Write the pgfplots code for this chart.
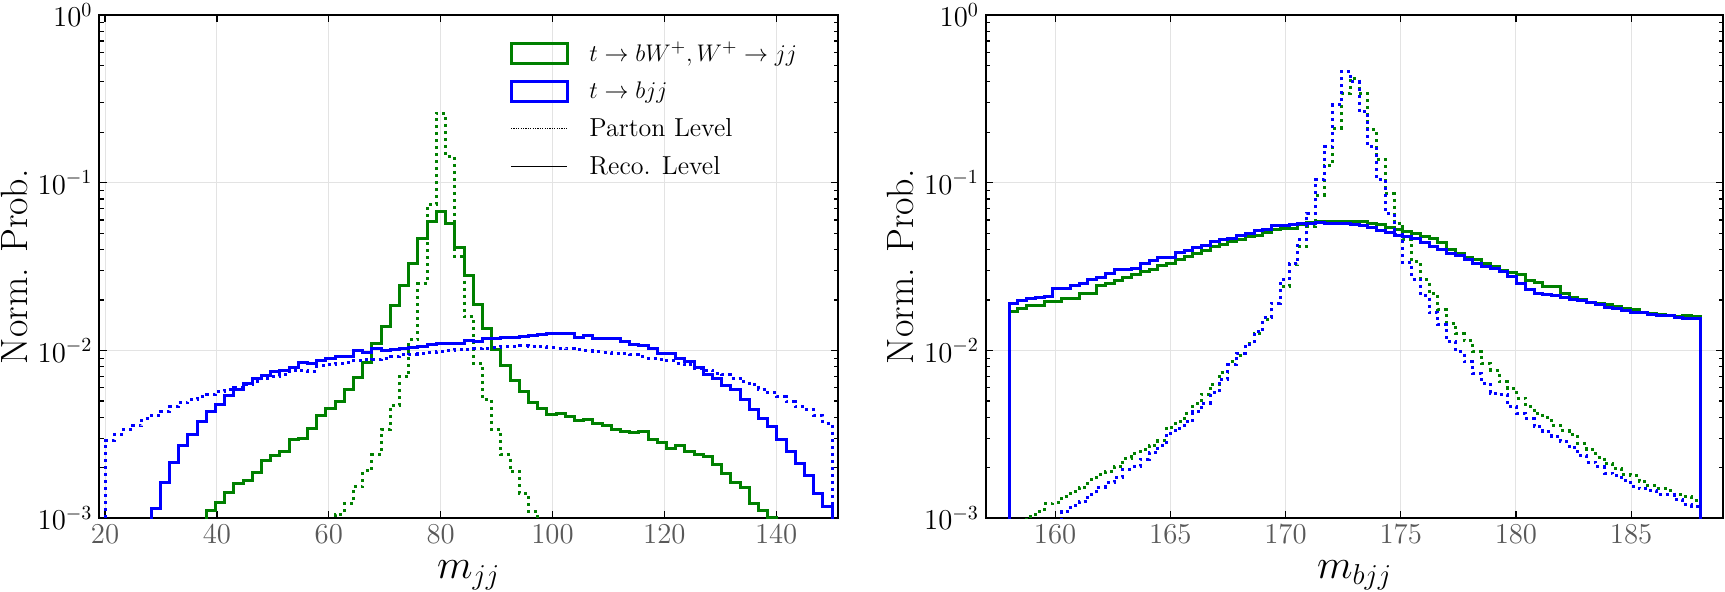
\documentclass[border=0pt]{standalone}
\usepackage{fontspec}
\usepackage{pgfplots}
\usepackage{pgfplotstable}
\pgfplotsset{compat=1.18}
\definecolor{mgreen}{rgb}{0,0.5,0}
\definecolor{mblue}{rgb}{0,0,1}

% left panel: bin index i (79 bins, 20..150), green reco, blue reco, green parton, blue parton
\pgfplotstableread{
i g b gp bp
0 1e-5 1e-5 1e-5 1e-5
0 1e-4 2e-4 1e-4 2.904e-3
1 1.2e-4 3e-4 1e-4 3.141e-3
2 1.6e-4 4.5e-4 1e-4 3.365e-3
3 2e-4 6e-4 1e-4 3.556e-3
4 2.5e-4 8e-4 1e-4 3.945e-3
5 3.2e-4 1.148e-3 1e-4 4.074e-3
6 4e-4 1.633e-3 1e-4 4.325e-3
7 5e-4 2.148e-3 1e-4 4.634e-3
8 6.3e-4 2.735e-3 1e-4 4.898e-3
9 7.9e-4 3.170e-3 1e-4 5.082e-3
10 9.3e-4 3.802e-3 1e-4 5.309e-3
11 1.109e-3 4.325e-3 1e-4 5.433e-3
12 1.247e-3 4.786e-3 1e-4 5.689e-3
13 1.419e-3 5.383e-3 1e-4 5.875e-3
14 1.618e-3 5.875e-3 1e-4 6.012e-3
15 1.675e-3 6.383e-3 1e-4 6.237e-3
16 1.888e-3 6.776e-3 1e-4 6.531e-3
17 2.203e-3 7.063e-3 1e-4 6.839e-3
18 2.382e-3 7.551e-3 1e-4 6.998e-3
19 2.506e-3 7.656e-3 1e-4 7.161e-3
20 2.958e-3 7.943e-3 1.3e-4 7.586e-3
21 3.006e-3 8.511e-3 2e-4 7.656e-3
22 3.420e-3 8.395e-3 3e-4 7.551e-3
23 4.093e-3 8.710e-3 4.5e-4 8.091e-3
24 4.539e-3 8.995e-3 7e-4 8.279e-3
25 4.955e-3 9.204e-3 1.059e-3 8.318e-3
26 5.875e-3 9.204e-3 1.219e-3 8.472e-3
27 6.934e-3 9.954e-3 1.545e-3 8.670e-3
28 8.433e-3 9.772e-3 1.923e-3 8.790e-3
29 1.109e-2 1.023e-2 2.388e-3 8.872e-3
30 1.390e-2 1.000e-2 3.365e-3 8.995e-3
31 1.858e-2 1.019e-2 4.677e-3 9.204e-3
32 2.432e-2 1.033e-2 6.998e-3 9.419e-3
33 3.311e-2 1.040e-2 1.156e-2 9.506e-3
34 4.634e-2 1.064e-2 2.518e-2 9.550e-3
35 5.902e-2 1.089e-2 7.379e-2 9.727e-3
36 6.714e-2 1.104e-2 0.2600 9.863e-3
37 5.702e-2 1.102e-2 0.1429 1.000e-2
38 4.111e-2 1.109e-2 3.631e-2 1.009e-2
39 2.786e-2 1.146e-2 1.585e-2 1.019e-2
40 1.888e-2 1.135e-2 8.395e-3 1.028e-2
41 1.346e-2 1.183e-2 5.082e-3 1.035e-2
42 1.009e-2 1.175e-2 3.365e-3 1.038e-2
43 8.091e-3 1.194e-2 2.388e-3 1.052e-2
44 6.592e-3 1.202e-2 1.901e-3 1.057e-2
45 5.689e-3 1.213e-2 1.413e-3 1.067e-2
46 4.898e-3 1.225e-2 1.096e-3 1.059e-2
47 4.529e-3 1.239e-2 8.5e-4 1.052e-2
48 4.130e-3 1.256e-2 6e-4 1.042e-2
49 4.227e-3 1.256e-2 4e-4 1.033e-2
50 4.036e-3 1.256e-2 2e-4 1.023e-2
51 3.855e-3 1.202e-2 1e-4 1.014e-2
52 3.890e-3 1.222e-2 1e-4 1.000e-2
53 3.681e-3 1.183e-2 1e-4 9.863e-3
54 3.573e-3 1.183e-2 1e-4 9.772e-3
55 3.365e-3 1.183e-2 1e-4 9.638e-3
56 3.289e-3 1.130e-2 1e-4 9.550e-3
57 3.243e-3 1.094e-2 1e-4 9.419e-3
58 3.289e-3 1.079e-2 1e-4 9.204e-3
59 2.958e-3 1.023e-2 1e-4 8.995e-3
60 2.838e-3 9.550e-3 1e-4 8.872e-3
61 2.594e-3 9.550e-3 1e-4 8.670e-3
62 2.698e-3 8.995e-3 1e-4 8.395e-3
63 2.500e-3 8.590e-3 1e-4 8.204e-3
64 2.388e-3 7.943e-3 1e-4 7.834e-3
65 2.333e-3 7.244e-3 1e-4 7.656e-3
66 2.080e-3 6.839e-3 1e-4 7.328e-3
67 1.858e-3 6.152e-3 1e-4 7.161e-3
68 1.641e-3 5.821e-3 1e-4 6.839e-3
69 1.524e-3 5.129e-3 1e-4 6.531e-3
70 1.230e-3 4.467e-3 1e-4 6.237e-3
71 1.107e-3 3.945e-3 1e-4 5.875e-3
72 1.005e-3 3.524e-3 1e-4 5.610e-3
73 8e-4 2.931e-3 1e-4 5.309e-3
74 6.3e-4 2.500e-3 1e-4 4.966e-3
75 5e-4 2.128e-3 1e-4 4.634e-3
76 4e-4 1.791e-3 1e-4 4.426e-3
77 2.8e-4 1.413e-3 1e-4 4.074e-3
78 2e-4 1.175e-3 1e-4 3.681e-3
79 2e-4 1.175e-3 1e-4 3.681e-3
79 1e-5 1e-5 1e-5 1e-5
}\leftdata

% right panel: bin index i (79 bins, 158..188)
\pgfplotstableread{
i g b gp bp
0 1e-5 1e-5 1e-5 1e-5
0 1.710e-2 1.897e-2 8.9e-4 7.9e-4
1 1.782e-2 1.977e-2 9.3e-4 8.1e-4
2 1.866e-2 2.051e-2 1.023e-3 8.5e-4
3 1.866e-2 2.080e-2 1.096e-3 8.9e-4
4 1.954e-2 2.113e-2 1.219e-3 9.3e-4
5 1.954e-2 2.350e-2 1.242e-3 9.55e-4
6 2.051e-2 2.350e-2 1.349e-3 1.096e-3
7 2.051e-2 2.427e-2 1.442e-3 1.186e-3
8 2.193e-2 2.518e-2 1.531e-3 1.259e-3
9 2.193e-2 2.636e-2 1.694e-3 1.396e-3
10 2.432e-2 2.735e-2 1.816e-3 1.531e-3
11 2.518e-2 2.884e-2 1.897e-3 1.633e-3
12 2.612e-2 3.048e-2 2.032e-3 1.758e-3
13 2.735e-2 3.048e-2 2.280e-3 1.968e-3
14 2.825e-2 3.090e-2 2.443e-3 2.032e-3
15 2.958e-2 3.281e-2 2.559e-3 2.249e-3
16 3.048e-2 3.436e-2 2.735e-3 2.466e-3
17 3.199e-2 3.597e-2 2.904e-3 2.698e-3
18 3.281e-2 3.597e-2 3.491e-3 3.214e-3
19 3.467e-2 3.837e-2 3.767e-3 3.443e-3
20 3.639e-2 3.945e-2 4.188e-3 3.767e-3
21 3.802e-2 4.130e-2 4.808e-3 4.325e-3
22 3.945e-2 4.256e-2 5.495e-3 4.853e-3
23 4.198e-2 4.457e-2 6.310e-3 5.623e-3
24 4.305e-2 4.603e-2 7.413e-3 6.761e-3
25 4.457e-2 4.667e-2 8.590e-3 8.204e-3
26 4.613e-2 4.819e-2 9.290e-3 9.638e-3
27 4.775e-2 5.000e-2 1.104e-2 1.094e-2
28 4.875e-2 5.164e-2 1.268e-2 1.297e-2
29 5.047e-2 5.284e-2 1.521e-2 1.578e-2
30 5.284e-2 5.534e-2 1.914e-2 1.914e-2
31 5.358e-2 5.534e-2 2.404e-2 2.636e-2
32 5.358e-2 5.610e-2 3.236e-2 3.311e-2
33 5.675e-2 5.741e-2 4.159e-2 4.560e-2
34 5.781e-2 5.754e-2 5.470e-2 6.577e-2
35 5.875e-2 5.781e-2 8.453e-2 0.1040
36 5.902e-2 5.754e-2 0.1276 0.1641
37 5.848e-2 5.754e-2 0.2113 0.2911
38 5.848e-2 5.702e-2 0.3412 0.4592
39 5.902e-2 5.610e-2 0.4198 0.4009
40 5.848e-2 5.546e-2 0.3412 0.2655
41 5.754e-2 5.408e-2 0.2065 0.1641
42 5.610e-2 5.212e-2 0.1368 0.1040
43 5.408e-2 5.058e-2 8.650e-2 6.577e-2
44 5.272e-2 4.875e-2 5.741e-2 4.887e-2
45 5.140e-2 4.808e-2 4.560e-2 3.334e-2
46 4.955e-2 4.634e-2 3.388e-2 2.667e-2
47 4.753e-2 4.395e-2 2.661e-2 2.118e-2
48 4.634e-2 4.178e-2 2.193e-2 1.687e-2
49 4.395e-2 4.027e-2 1.746e-2 1.422e-2
50 4.027e-2 3.767e-2 1.455e-2 1.130e-2
51 3.767e-2 3.673e-2 1.256e-2 9.863e-3
52 3.581e-2 3.491e-2 1.148e-2 8.590e-3
53 3.491e-2 3.311e-2 9.863e-3 7.328e-3
54 3.281e-2 3.177e-2 8.395e-3 6.383e-3
55 3.148e-2 3.069e-2 7.656e-3 5.559e-3
56 2.985e-2 2.958e-2 6.531e-3 5.433e-3
57 2.911e-2 2.767e-2 5.957e-3 4.634e-3
58 2.838e-2 2.495e-2 5.200e-3 4.227e-3
59 2.624e-2 2.307e-2 4.634e-3 3.945e-3
60 2.535e-2 2.193e-2 4.227e-3 3.524e-3
61 2.404e-2 2.168e-2 3.999e-3 3.289e-3
62 2.404e-2 2.138e-2 3.573e-3 3.069e-3
63 2.193e-2 2.080e-2 3.319e-3 2.864e-3
64 2.061e-2 2.028e-2 3.141e-3 2.630e-3
65 2.028e-2 1.977e-2 2.780e-3 2.371e-3
66 1.945e-2 1.928e-2 2.570e-3 2.163e-3
67 1.905e-2 1.879e-2 2.317e-3 2.042e-3
68 1.879e-2 1.803e-2 2.123e-3 1.862e-3
69 1.828e-2 1.782e-2 1.986e-3 1.799e-3
70 1.782e-2 1.738e-2 1.820e-3 1.679e-3
71 1.766e-2 1.675e-2 1.791e-3 1.549e-3
72 1.694e-2 1.675e-2 1.660e-3 1.496e-3
73 1.667e-2 1.648e-2 1.574e-3 1.462e-3
74 1.648e-2 1.626e-2 1.496e-3 1.380e-3
75 1.607e-2 1.607e-2 1.459e-3 1.380e-3
76 1.585e-2 1.567e-2 1.384e-3 1.288e-3
77 1.607e-2 1.542e-2 1.349e-3 1.202e-3
78 1.585e-2 1.542e-2 1.282e-3 1.175e-3
79 1.585e-2 1.542e-2 1.282e-3 1.175e-3
79 1e-5 1e-5 1e-5 1e-5
}\rightdata

\begin{document}
\begin{tikzpicture}
\path[use as bounding box] (0,0) rectangle (862.5pt,295.5pt);

\begin{axis}[
  at={(49.75pt,36.35pt)}, anchor=south west,
  scale only axis, width=369.1pt, height=251.65pt,
  ymode=log, ymin=1e-3, ymax=1, ytick={1e-3,1e-2,1e-1,1},
  xmin=19, xmax=151, xtick={20,40,...,140},
  grid=major, major grid style={black!11, line width=0.5pt},
  axis line style={line width=1pt},
  tick style={black, line width=0.6pt},
  major tick length=3.5pt, minor tick length=2pt,
  tick align=inside,
  tick label style={font=\fontsize{14}{16}\selectfont},
  xticklabel style={text=black!65},
  xlabel style={font=\fontsize{20}{24}\selectfont, yshift=-1.5pt},
  ylabel style={font=\fontsize{19}{22}\selectfont, at={(axis description cs:-0.1151,0.5)}, anchor=center},
  xlabel={$m_{jj}$}, ylabel={Norm. Prob.},
  legend style={draw=none, fill=none, at={(0.555,0.955)}, anchor=north west,
    font=\fontsize{13}{15}\selectfont, row sep=4.5pt, inner sep=0pt,
    nodes={font=\fontsize{13}{15}\selectfont}},
  legend cell align=left,
]
\addplot[const plot, line width=1.5pt, line join=miter, dash pattern=on 1.5pt off 2pt, mgreen, forget plot] table[x expr=20+\thisrow{i}*1.645570, y=gp] {\leftdata};
\addplot[const plot, line width=1.5pt, line join=miter, mgreen, forget plot] table[x expr=20+\thisrow{i}*1.645570, y=g] {\leftdata};
\addplot[const plot, line width=1.5pt, line join=miter, dash pattern=on 1.5pt off 2pt, mblue, forget plot] table[x expr=20+\thisrow{i}*1.645570, y=bp] {\leftdata};
\addplot[const plot, line width=1.5pt, line join=miter, mblue, forget plot] table[x expr=20+\thisrow{i}*1.645570, y=b] {\leftdata};

\addlegendimage{legend image code/.code={\draw[mgreen, line width=1.5pt] (0pt,-5pt) rectangle (28pt,5pt); \path (37pt,0pt);}}
\addlegendentry{$t\rightarrow bW^{+}, W^{+}\rightarrow jj$}
\addlegendimage{legend image code/.code={\draw[mblue, line width=1.5pt] (0pt,-5pt) rectangle (28pt,5pt); \path (37pt,0pt);}}
\addlegendentry{$t\rightarrow bjj$}
\addlegendimage{legend image code/.code={\draw[black, line width=0.6pt, dash pattern=on 0.6pt off 0.6pt] (0pt,0pt) -- (28pt,0pt); \path (37pt,0pt);}}
\addlegendentry{Parton Level}
\addlegendimage{legend image code/.code={\draw[black, line width=0.7pt] (0pt,0pt) -- (28pt,0pt); \path (37pt,0pt);}}
\addlegendentry{Reco. Level}
\end{axis}

\begin{axis}[
  at={(493pt,36.35pt)}, anchor=south west,
  scale only axis, width=368.65pt, height=251.65pt,
  ymode=log, ymin=1e-3, ymax=1, ytick={1e-3,1e-2,1e-1,1},
  xmin=157, xmax=189, xtick={160,165,...,185},
  grid=major, major grid style={black!11, line width=0.5pt},
  axis line style={line width=1pt},
  tick style={black, line width=0.6pt},
  major tick length=3.5pt, minor tick length=2pt,
  tick align=inside,
  tick label style={font=\fontsize{14}{16}\selectfont},
  xticklabel style={text=black!65},
  xlabel style={font=\fontsize{20}{24}\selectfont, yshift=-1.5pt},
  ylabel style={font=\fontsize{19}{22}\selectfont, at={(axis description cs:-0.1166,0.5)}, anchor=center},
  xlabel={$m_{bjj}$}, ylabel={Norm. Prob.},
]
\addplot[const plot, line width=1.5pt, line join=miter, dash pattern=on 1.5pt off 2pt, mgreen] table[x expr=158+\thisrow{i}*0.379747, y=gp] {\rightdata};
\addplot[const plot, line width=1.5pt, line join=miter, mgreen] table[x expr=158+\thisrow{i}*0.379747, y=g] {\rightdata};
\addplot[const plot, line width=1.5pt, line join=miter, dash pattern=on 1.5pt off 2pt, mblue] table[x expr=158+\thisrow{i}*0.379747, y=bp] {\rightdata};
\addplot[const plot, line width=1.5pt, line join=miter, mblue] table[x expr=158+\thisrow{i}*0.379747, y=b] {\rightdata};
\end{axis}
\end{tikzpicture}
\end{document}
